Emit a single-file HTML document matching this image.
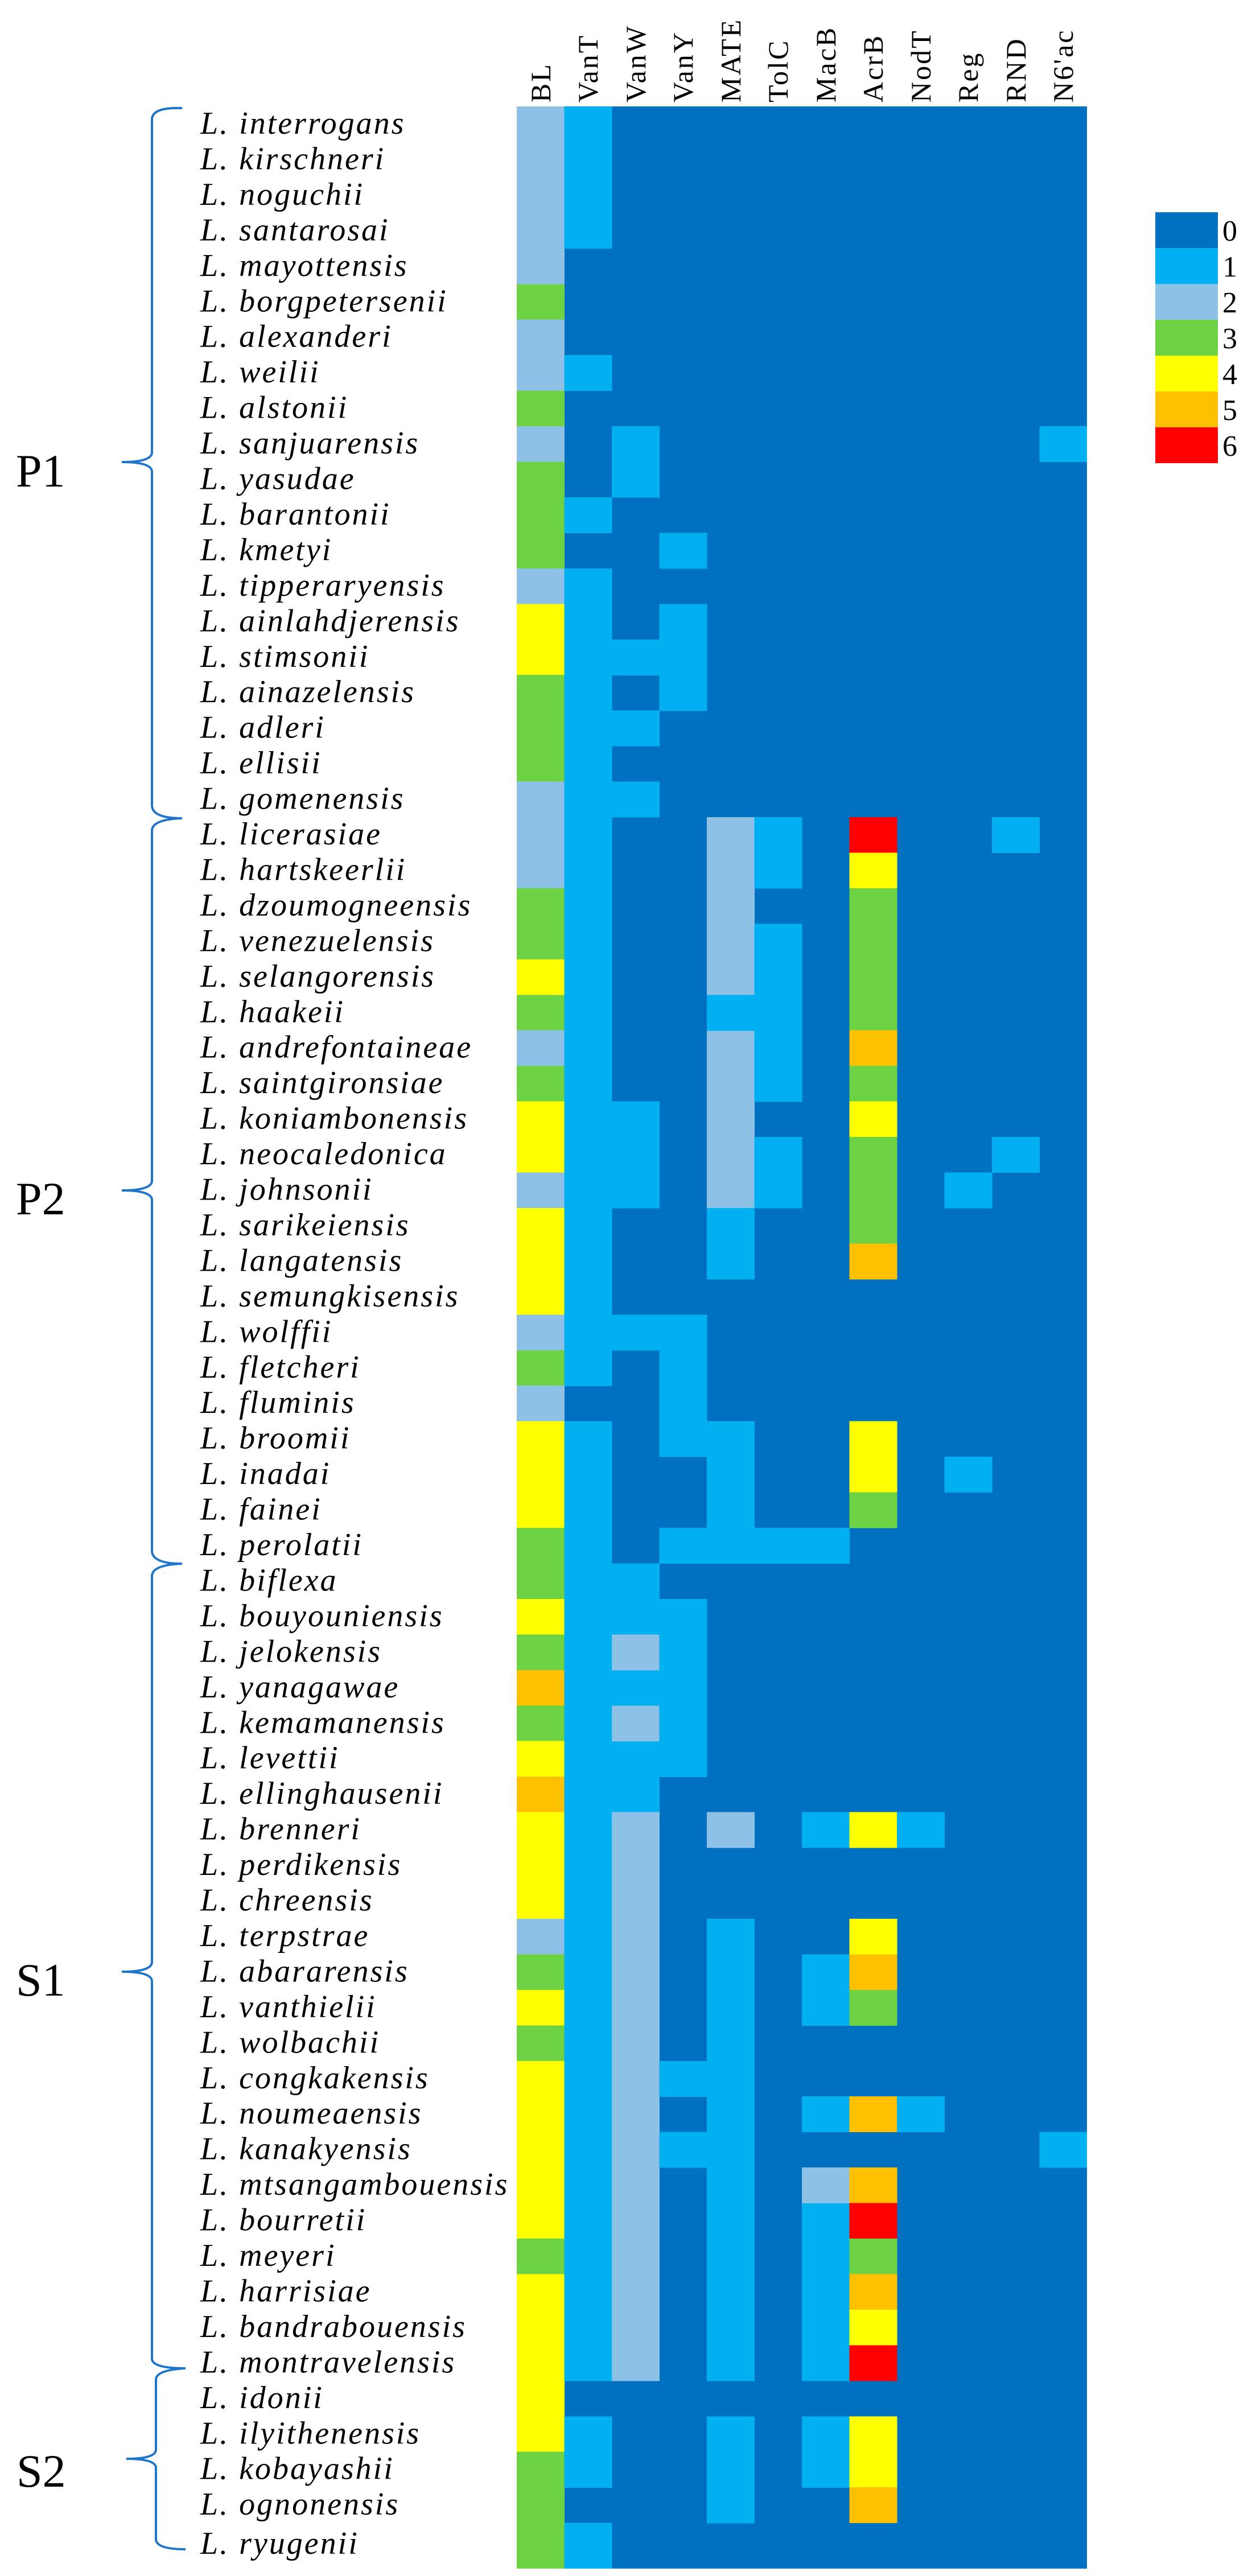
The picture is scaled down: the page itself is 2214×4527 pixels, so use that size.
<!DOCTYPE html>
<html><head><meta charset="utf-8"><style>
html,body{margin:0;padding:0;background:#fff;}
svg{display:block;}
.sp{font-family:"Liberation Serif",serif;font-style:italic;font-size:56px;letter-spacing:3px;fill:#000;}
.hd{font-family:"Liberation Serif",serif;font-size:50px;letter-spacing:3px;fill:#000;}
.gp{font-family:"Liberation Serif",serif;font-size:82px;fill:#000;}
.lg{font-family:"Liberation Serif",serif;font-size:52px;fill:#000;}
</style></head><body>
<svg width="2214" height="4527" viewBox="0 0 2214 4527" xmlns="http://www.w3.org/2000/svg" shape-rendering="crispEdges">
<rect x="0" y="0" width="2214" height="4527" fill="#fff"/>
<rect x="908" y="187" width="1002" height="4327" fill="#0070C0"/>
<g>
<rect x="908" y="187" width="84" height="313" fill="#8DC1E6"/>
<rect x="908" y="499.25" width="84" height="63" fill="#6DD244"/>
<rect x="908" y="561.7" width="84" height="125.5" fill="#8DC1E6"/>
<rect x="908" y="686.6" width="84" height="63" fill="#6DD244"/>
<rect x="908" y="749.05" width="84" height="63" fill="#8DC1E6"/>
<rect x="908" y="811.5" width="84" height="188" fill="#6DD244"/>
<rect x="908" y="998.85" width="84" height="63" fill="#8DC1E6"/>
<rect x="908" y="1061.3" width="84" height="125.5" fill="#FFFF00"/>
<rect x="908" y="1186.2" width="84" height="188" fill="#6DD244"/>
<rect x="908" y="1373.55" width="84" height="188" fill="#8DC1E6"/>
<rect x="908" y="1560.9" width="84" height="125.5" fill="#6DD244"/>
<rect x="908" y="1685.8" width="84" height="63" fill="#FFFF00"/>
<rect x="908" y="1748.25" width="84" height="63" fill="#6DD244"/>
<rect x="908" y="1810.7" width="84" height="63" fill="#8DC1E6"/>
<rect x="908" y="1873.15" width="84" height="63" fill="#6DD244"/>
<rect x="908" y="1935.6" width="84" height="125.5" fill="#FFFF00"/>
<rect x="908" y="2060.5" width="84" height="63" fill="#8DC1E6"/>
<rect x="908" y="2122.95" width="84" height="188" fill="#FFFF00"/>
<rect x="908" y="2310.3" width="84" height="63" fill="#8DC1E6"/>
<rect x="908" y="2372.75" width="84" height="63" fill="#6DD244"/>
<rect x="908" y="2435.2" width="84" height="63" fill="#8DC1E6"/>
<rect x="908" y="2497.65" width="84" height="188" fill="#FFFF00"/>
<rect x="908" y="2685" width="84" height="125.5" fill="#6DD244"/>
<rect x="908" y="2809.9" width="84" height="63" fill="#FFFF00"/>
<rect x="908" y="2872.35" width="84" height="63" fill="#6DD244"/>
<rect x="908" y="2934.8" width="84" height="63" fill="#FFC000"/>
<rect x="908" y="2997.25" width="84" height="63" fill="#6DD244"/>
<rect x="908" y="3059.7" width="84" height="63" fill="#FFFF00"/>
<rect x="908" y="3122.15" width="84" height="63" fill="#FFC000"/>
<rect x="908" y="3184.6" width="84" height="188" fill="#FFFF00"/>
<rect x="908" y="3371.95" width="84" height="63" fill="#8DC1E6"/>
<rect x="908" y="3434.4" width="84" height="63" fill="#6DD244"/>
<rect x="908" y="3496.85" width="84" height="63" fill="#FFFF00"/>
<rect x="908" y="3559.3" width="84" height="63" fill="#6DD244"/>
<rect x="908" y="3621.75" width="84" height="313" fill="#FFFF00"/>
<rect x="908" y="3934" width="84" height="63" fill="#6DD244"/>
<rect x="908" y="3996.45" width="84" height="313" fill="#FFFF00"/>
<rect x="908" y="4308.7" width="84" height="205.3" fill="#6DD244"/>
</g>
<g fill="#00B0F0">
<rect x="991.5" y="187" width="84" height="250"/>
<rect x="991.5" y="624.15" width="84" height="63"/>
<rect x="991.5" y="873.95" width="84" height="63"/>
<rect x="991.5" y="998.85" width="84" height="1436.9"/>
<rect x="991.5" y="2497.65" width="84" height="1686.7"/>
<rect x="991.5" y="4246.25" width="84" height="125.5"/>
<rect x="991.5" y="4433.6" width="84" height="80.4"/>
</g>
<g fill="#00B0F0">
<rect x="1075" y="749.05" width="84" height="125.5"/>
<rect x="1075" y="1123.75" width="84" height="63"/>
<rect x="1075" y="1248.65" width="84" height="63"/>
<rect x="1075" y="1373.55" width="84" height="63"/>
<rect x="1075" y="1935.6" width="84" height="188"/>
<rect x="1075" y="2310.3" width="84" height="63"/>
<rect x="1075" y="2747.45" width="84" height="125.5"/>
<rect x="1075" y="2934.8" width="84" height="63"/>
<rect x="1075" y="3059.7" width="84" height="125.5"/>
</g>
<g fill="#8DC1E6">
<rect x="1075" y="2872.35" width="84" height="63"/>
<rect x="1075" y="2997.25" width="84" height="63"/>
<rect x="1075" y="3184.6" width="84" height="999.8"/>
</g>
<g fill="#00B0F0">
<rect x="1158.5" y="936.4" width="84" height="63"/>
<rect x="1158.5" y="1061.3" width="84" height="188"/>
<rect x="1158.5" y="2310.3" width="84" height="250.4"/>
<rect x="1158.5" y="2685" width="84" height="63"/>
<rect x="1158.5" y="2809.9" width="84" height="313"/>
<rect x="1158.5" y="3621.75" width="84" height="63"/>
<rect x="1158.5" y="3746.65" width="84" height="63"/>
</g>
<g fill="#8DC1E6">
<rect x="1242" y="1436" width="84" height="313"/>
<rect x="1242" y="1810.7" width="84" height="313"/>
<rect x="1242" y="3184.6" width="84" height="63"/>
</g>
<g fill="#00B0F0">
<rect x="1242" y="1748.25" width="84" height="63"/>
<rect x="1242" y="2122.95" width="84" height="125.5"/>
<rect x="1242" y="2497.65" width="84" height="250.4"/>
<rect x="1242" y="3371.95" width="84" height="812.4"/>
<rect x="1242" y="4246.25" width="84" height="188"/>
</g>
<g fill="#00B0F0">
<rect x="1325.5" y="1436" width="84" height="125.5"/>
<rect x="1325.5" y="1623.35" width="84" height="313"/>
<rect x="1325.5" y="1998.05" width="84" height="125.5"/>
<rect x="1325.5" y="2685" width="84" height="63"/>
</g>
<g fill="#00B0F0">
<rect x="1409" y="2685" width="84" height="63"/>
<rect x="1409" y="3184.6" width="84" height="63"/>
<rect x="1409" y="3434.4" width="84" height="125.5"/>
<rect x="1409" y="3684.2" width="84" height="63"/>
<rect x="1409" y="3871.55" width="84" height="313"/>
<rect x="1409" y="4246.25" width="84" height="125.5"/>
</g>
<rect x="1409" y="3809.1" width="84" height="63" fill="#8DC1E6"/>
<g>
<rect x="1492.5" y="1436" width="84" height="63" fill="#FF0000"/>
<rect x="1492.5" y="1498.45" width="84" height="63" fill="#FFFF00"/>
<rect x="1492.5" y="1560.9" width="84" height="250.4" fill="#6DD244"/>
<rect x="1492.5" y="1810.7" width="84" height="63" fill="#FFC000"/>
<rect x="1492.5" y="1873.15" width="84" height="63" fill="#6DD244"/>
<rect x="1492.5" y="1935.6" width="84" height="63" fill="#FFFF00"/>
<rect x="1492.5" y="1998.05" width="84" height="188" fill="#6DD244"/>
<rect x="1492.5" y="2185.4" width="84" height="63" fill="#FFC000"/>
<rect x="1492.5" y="2497.65" width="84" height="125.5" fill="#FFFF00"/>
<rect x="1492.5" y="2622.55" width="84" height="63" fill="#6DD244"/>
<rect x="1492.5" y="3184.6" width="84" height="63" fill="#FFFF00"/>
<rect x="1492.5" y="3371.95" width="84" height="63" fill="#FFFF00"/>
<rect x="1492.5" y="3434.4" width="84" height="63" fill="#FFC000"/>
<rect x="1492.5" y="3496.85" width="84" height="63" fill="#6DD244"/>
<rect x="1492.5" y="3684.2" width="84" height="63" fill="#FFC000"/>
<rect x="1492.5" y="3809.1" width="84" height="63" fill="#FFC000"/>
<rect x="1492.5" y="3871.55" width="84" height="63" fill="#FF0000"/>
<rect x="1492.5" y="3934" width="84" height="63" fill="#6DD244"/>
<rect x="1492.5" y="3996.45" width="84" height="63" fill="#FFC000"/>
<rect x="1492.5" y="4058.9" width="84" height="63" fill="#FFFF00"/>
<rect x="1492.5" y="4121.35" width="84" height="63" fill="#FF0000"/>
<rect x="1492.5" y="4246.25" width="84" height="125.5" fill="#FFFF00"/>
<rect x="1492.5" y="4371.15" width="84" height="63" fill="#FFC000"/>
</g>
<g fill="#00B0F0">
<rect x="1576" y="3184.6" width="84" height="63"/>
<rect x="1576" y="3684.2" width="84" height="63"/>
<rect x="1659.5" y="2060.5" width="84" height="63"/>
<rect x="1659.5" y="2560.1" width="84" height="63"/>
<rect x="1743" y="1436" width="84" height="63"/>
<rect x="1743" y="1998.05" width="84" height="63"/>
<rect x="1826.5" y="749.05" width="83.5" height="63"/>
<rect x="1826.5" y="3746.65" width="83.5" height="63"/>
</g>

<g class="hd">
<text transform="translate(967,180) rotate(-90)">BL</text>
<text transform="translate(1050,180) rotate(-90)">VanT</text>
<text transform="translate(1134,180) rotate(-90)">VanW</text>
<text transform="translate(1217,180) rotate(-90)">VanY</text>
<text transform="translate(1301,180) rotate(-90)">MATE</text>
<text transform="translate(1384,180) rotate(-90)">TolC</text>
<text transform="translate(1468,180) rotate(-90)">MacB</text>
<text transform="translate(1551,180) rotate(-90)">AcrB</text>
<text transform="translate(1635,180) rotate(-90)">NodT</text>
<text transform="translate(1718,180) rotate(-90)">Reg</text>
<text transform="translate(1802,180) rotate(-90)">RND</text>
<text transform="translate(1885,180) rotate(-90)">N6'ac</text>
</g>

<g class="sp">
<text x="352" y="235">L. interrogans</text>
<text x="352" y="297.45">L. kirschneri</text>
<text x="352" y="359.9">L. noguchii</text>
<text x="352" y="422.35">L. santarosai</text>
<text x="352" y="484.8">L. mayottensis</text>
<text x="352" y="547.25">L. borgpetersenii</text>
<text x="352" y="609.7">L. alexanderi</text>
<text x="352" y="672.15">L. weilii</text>
<text x="352" y="734.6">L. alstonii</text>
<text x="352" y="797.05">L. sanjuarensis</text>
<text x="352" y="859.5">L. yasudae</text>
<text x="352" y="921.95">L. barantonii</text>
<text x="352" y="984.4">L. kmetyi</text>
<text x="352" y="1046.85">L. tipperaryensis</text>
<text x="352" y="1109.3">L. ainlahdjerensis</text>
<text x="352" y="1171.75">L. stimsonii</text>
<text x="352" y="1234.2">L. ainazelensis</text>
<text x="352" y="1296.65">L. adleri</text>
<text x="352" y="1359.1">L. ellisii</text>
<text x="352" y="1421.55">L. gomenensis</text>
<text x="352" y="1484">L. licerasiae</text>
<text x="352" y="1546.45">L. hartskeerlii</text>
<text x="352" y="1608.9">L. dzoumogneensis</text>
<text x="352" y="1671.35">L. venezuelensis</text>
<text x="352" y="1733.8">L. selangorensis</text>
<text x="352" y="1796.25">L. haakeii</text>
<text x="352" y="1858.7">L. andrefontaineae</text>
<text x="352" y="1921.15">L. saintgironsiae</text>
<text x="352" y="1983.6">L. koniambonensis</text>
<text x="352" y="2046.05">L. neocaledonica</text>
<text x="352" y="2108.5">L. johnsonii</text>
<text x="352" y="2170.95">L. sarikeiensis</text>
<text x="352" y="2233.4">L. langatensis</text>
<text x="352" y="2295.85">L. semungkisensis</text>
<text x="352" y="2358.3">L. wolffii</text>
<text x="352" y="2420.75">L. fletcheri</text>
<text x="352" y="2483.2">L. fluminis</text>
<text x="352" y="2545.65">L. broomii</text>
<text x="352" y="2608.1">L. inadai</text>
<text x="352" y="2670.55">L. fainei</text>
<text x="352" y="2733">L. perolatii</text>
<text x="352" y="2795.45">L. biflexa</text>
<text x="352" y="2857.9">L. bouyouniensis</text>
<text x="352" y="2920.35">L. jelokensis</text>
<text x="352" y="2982.8">L. yanagawae</text>
<text x="352" y="3045.25">L. kemamanensis</text>
<text x="352" y="3107.7">L. levettii</text>
<text x="352" y="3170.15">L. ellinghausenii</text>
<text x="352" y="3232.6">L. brenneri</text>
<text x="352" y="3295.05">L. perdikensis</text>
<text x="352" y="3357.5">L. chreensis</text>
<text x="352" y="3419.95">L. terpstrae</text>
<text x="352" y="3482.4">L. abararensis</text>
<text x="352" y="3544.85">L. vanthielii</text>
<text x="352" y="3607.3">L. wolbachii</text>
<text x="352" y="3669.75">L. congkakensis</text>
<text x="352" y="3732.2">L. noumeaensis</text>
<text x="352" y="3794.65">L. kanakyensis</text>
<text x="352" y="3857.1">L. mtsangambouensis</text>
<text x="352" y="3919.55">L. bourretii</text>
<text x="352" y="3982">L. meyeri</text>
<text x="352" y="4044.45">L. harrisiae</text>
<text x="352" y="4106.9">L. bandrabouensis</text>
<text x="352" y="4169.35">L. montravelensis</text>
<text x="352" y="4231.8">L. idonii</text>
<text x="352" y="4294.25">L. ilyithenensis</text>
<text x="352" y="4356.7">L. kobayashii</text>
<text x="352" y="4419.15">L. ognonensis</text>
<text x="352" y="4488">L. ryugenii</text>
</g>

<g fill="none" stroke="#1F74CB" stroke-width="4" shape-rendering="geometricPrecision">
<path d="M320,190 Q267,188 267,210 L267,795 Q267,812 214,812 Q267,812 267,829 L267,1415 Q267,1438 320,1438"/>
<path d="M320,1438 Q267,1440 267,1460 L267,2075 Q267,2092 214,2092 Q267,2092 267,2109 L267,2725 Q267,2748 320,2748"/>
<path d="M320,2748 Q267,2750 267,2770 L267,3448 Q267,3465 214,3465 Q267,3465 267,3482 L267,4145 Q267,4162 326,4162"/>
<path d="M326,4162 Q274,4165 274,4182 L274,4305 Q274,4321 222,4321 Q274,4321 274,4337 L274,4462 Q274,4480 326,4480"/>
</g>
<g class="gp">
<text x="28" y="855">P1</text>
<text x="28" y="2134">P2</text>
<text x="28" y="3507">S1</text>
<text x="29" y="4370">S2</text>
</g>

<g>
<rect x="2030" y="373" width="110" height="63" fill="#0070C0"/>
<rect x="2030" y="436" width="110" height="63" fill="#00B0F0"/>
<rect x="2030" y="499" width="110" height="63" fill="#8DC1E6"/>
<rect x="2030" y="562" width="110" height="63" fill="#6DD244"/>
<rect x="2030" y="625" width="110" height="63" fill="#FFFF00"/>
<rect x="2030" y="688" width="110" height="63" fill="#FFC000"/>
<rect x="2030" y="751" width="110" height="63" fill="#FF0000"/>
</g>
<g class="lg">
<text x="2148" y="423">0</text>
<text x="2148" y="486">1</text>
<text x="2148" y="549">2</text>
<text x="2148" y="612">3</text>
<text x="2148" y="675">4</text>
<text x="2148" y="738">5</text>
<text x="2148" y="801">6</text>
</g>
</svg>
</body></html>
